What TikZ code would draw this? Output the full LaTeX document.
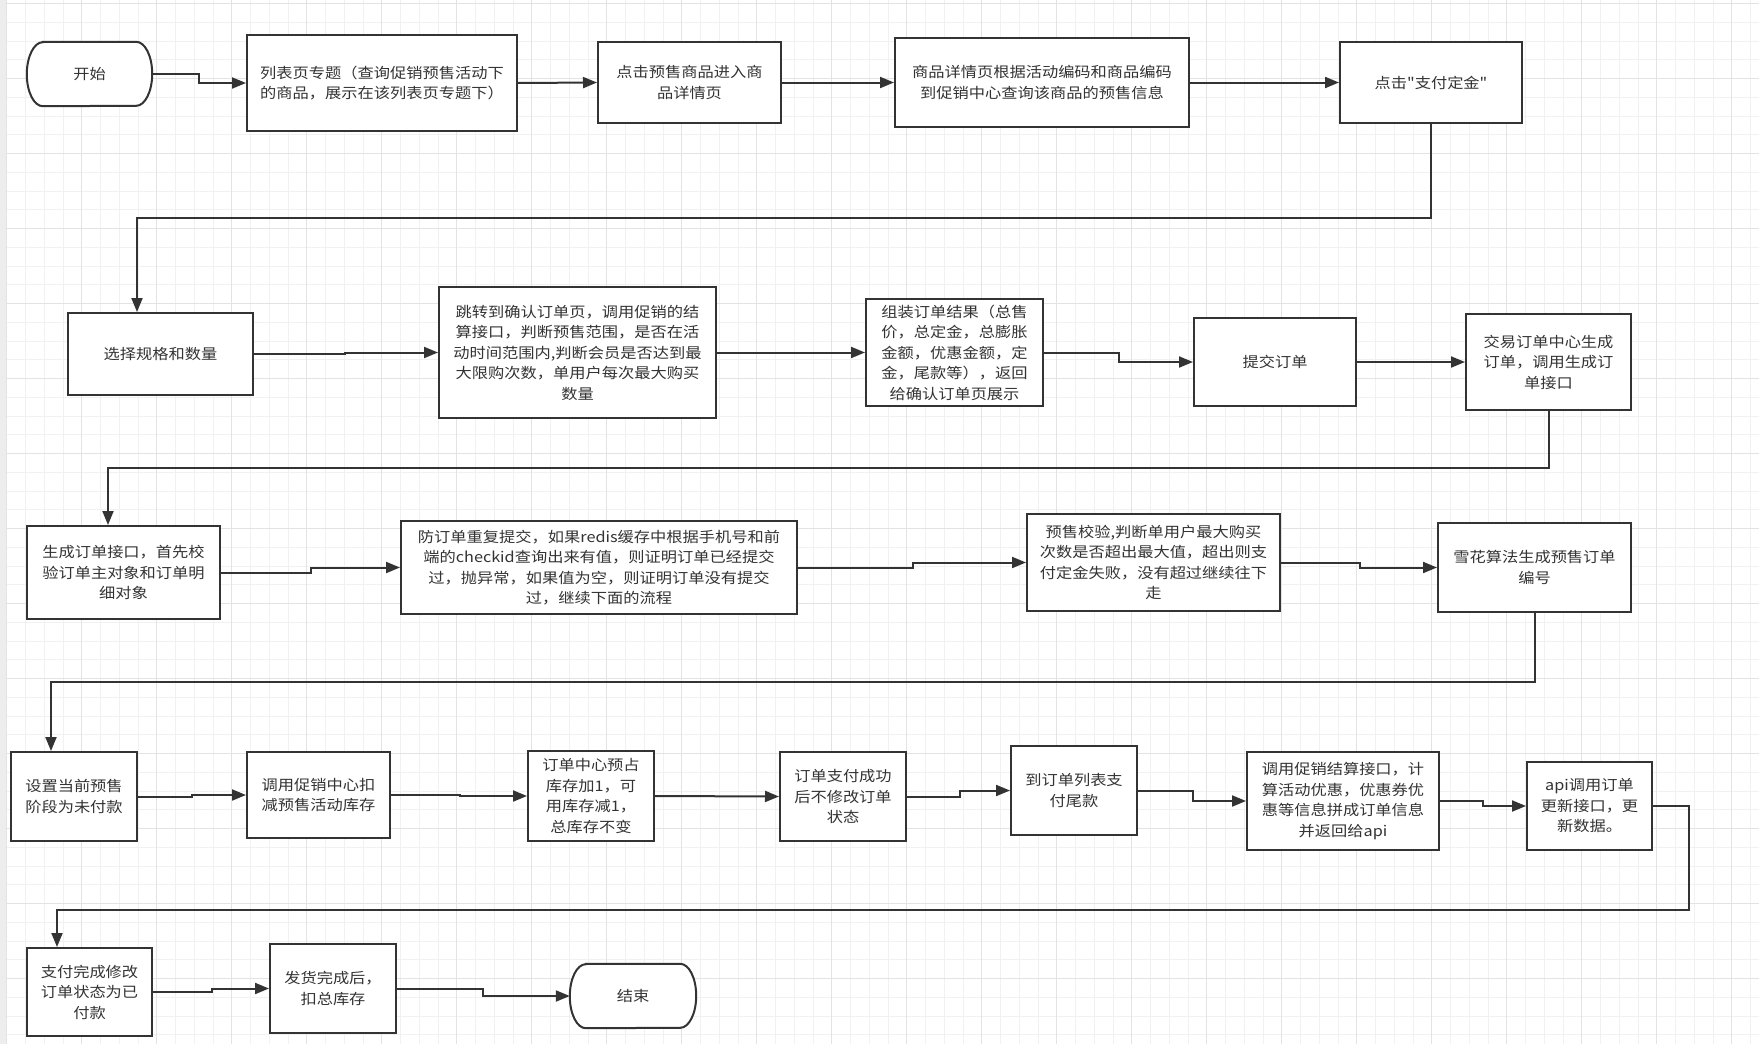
\documentclass[tikz,border=0pt]{standalone}
\usepackage{fontspec}
\setmainfont{Noto Sans CJK SC}[FakeStretch=1.12, Ligatures=TeXOff]
\usetikzlibrary{arrows.meta}
\definecolor{lc}{HTML}{333333}
\definecolor{tc}{HTML}{333333}
\definecolor{gminor}{HTML}{F1F1F1}
\definecolor{gmajor}{HTML}{E3E3E3}
\definecolor{gstrip}{HTML}{EDEDED}
\pgfdeclarelayer{gridlayer}
\pgfdeclarelayer{shapelayer}
\pgfsetlayers{gridlayer,shapelayer,main}
\newcommand\boxfont{\fontsize{14.5}{20.5}\selectfont}
\begin{document}
\begin{tikzpicture}[x=1pt,y=-1pt,
 box/.style={draw=lc, line width=2pt, fill=white, align=center, font=\boxfont, text=tc, inner sep=2pt},
 termtext/.style={align=center, font=\boxfont, text=tc, minimum width=125pt, minimum height=64pt, inner sep=0pt},
 arr/.style={draw=lc, line width=2pt, -{Triangle[length=14pt,width=11pt]}},
 termline/.style={draw=lc, line width=2pt, fill=white},
 minorgrid/.style={draw=gminor, line width=1pt},
 majorgrid/.style={draw=gmajor, line width=1.2pt}]
\useasboundingbox (0,0) rectangle (1759,1044);
\begin{pgfonlayer}{gridlayer}
\fill[white] (0,0) rectangle (1759,1044);
\foreach \i in {0,...,93} {\draw[minorgrid] ({6.8+\i*18.75},0) -- ({6.8+\i*18.75},1044);}
\foreach \i in {0,...,55} {\draw[minorgrid] (0,{3.5+\i*18.75}) -- (1759,{3.5+\i*18.75});}
\foreach \i in {0,...,23} {\draw[majorgrid] ({6.8+\i*75},0) -- ({6.8+\i*75},1044);}
\foreach \i in {0,...,13} {\draw[majorgrid] (0,{3.5+\i*75}) -- (1759,{3.5+\i*75});}
\fill[gstrip] (0,0) rectangle (6,1044);
\end{pgfonlayer}

% row 1
\node[termtext] (start) at (89.5,74) {开始};
\node[box, minimum width=270pt, minimum height=96pt] (list) at (382,83) {列表页专题（查询促销预售活动下\\的商品，展示在该列表页专题下）};
\node[box, minimum width=183pt, minimum height=81pt] (click) at (689.5,82.5) {点击预售商品进入商\\品详情页};
\node[box, minimum width=294pt, minimum height=89pt] (detail) at (1042,82.5) {商品详情页根据活动编码和商品编码\\到促销中心查询该商品的预售信息};
\node[box, minimum width=182pt, minimum height=81pt] (pay) at (1431,82.5) {点击"支付定金"};

% row 2
\node[box, minimum width=185pt, minimum height=82pt] (spec) at (160.5,354) {选择规格和数量};
\node[box, minimum width=277pt, minimum height=131pt] (jump) at (577.5,352.5) {跳转到确认订单页，调用促销的结\\算接口，判断预售范围，是否在活\\动时间范围内,判断会员是否达到最\\大限购次数，单用户每次最大购买\\数量};
\node[box, minimum width=177pt, minimum height=107pt] (assemble) at (954.5,352.5) {组装订单结果（总售\\价，总定金，总膨胀\\金额，优惠金额，定\\金，尾款等），返回\\给确认订单页展示};
\node[box, minimum width=162pt, minimum height=88pt] (submit) at (1275,362) {提交订单};
\node[box, minimum width=165pt, minimum height=96pt] (trade) at (1548.5,362) {交易订单中心生成\\订单，调用生成订\\单接口};

% row 3
\node[box, minimum width=193pt, minimum height=93pt] (gen) at (123.5,572.5) {生成订单接口，首先校\\验订单主对象和订单明\\细对象};
\node[box, minimum width=396pt, minimum height=93pt] (dup) at (599,567.5) {防订单重复提交，如果redis缓存中根据手机号和前\\端的checkid查询出来有值，则证明订单已经提交\\过，抛异常，如果值为空，则证明订单没有提交\\过，继续下面的流程};
\node[box, minimum width=253pt, minimum height=97pt] (presale) at (1153.5,562.5) {预售校验,判断单用户最大购买\\次数是否超出最大值，超出则支\\付定金失败，没有超过继续往下\\走};
\node[box, minimum width=193pt, minimum height=89pt] (snow) at (1534.5,567.5) {雪花算法生成预售订单\\编号};

% row 4
\node[box, minimum width=126pt, minimum height=89pt] (setstage) at (74,796.5) {设置当前预售\\阶段为未付款};
\node[box, minimum width=143pt, minimum height=86pt] (deduct) at (318.5,795) {调用促销中心扣\\减预售活动库存};
\node[box, minimum width=126pt, minimum height=90pt] (occupy) at (591,796) {订单中心预占\\库存加1，可\\用库存减1，\\总库存不变};
\node[box, minimum width=126pt, minimum height=89pt] (nomod) at (843,796.5) {订单支付成功\\后不修改订单\\状态};
\node[box, minimum width=126pt, minimum height=89pt] (tail) at (1074,790.5) {到订单列表支\\付尾款};
\node[box, minimum width=192pt, minimum height=98pt] (settle) at (1343,801) {调用促销结算接口，计\\算活动优惠，优惠券优\\惠等信息拼成订单信息\\并返回给api};
\node[box, minimum width=125pt, minimum height=88pt] (api) at (1589.5,806) {api调用订单\\更新接口，更\\新数据。};

% row 5
\node[box, minimum width=125pt, minimum height=88pt] (paid) at (89.5,992) {支付完成修改\\订单状态为已\\付款};
\node[box, minimum width=126pt, minimum height=89pt] (ship) at (333,988.5) {发货完成后，\\扣总库存};
\node[termtext, minimum width=126pt] (end) at (633,996) {结束};

\begin{pgfonlayer}{shapelayer}
\foreach \t in {start,end} {
\draw[termline] ([xshift=16pt]\t.north west) -- ([xshift=-16pt]\t.north east)
  arc[start angle=90,end angle=-90,x radius=16pt,y radius=32pt]
  -- ([xshift=16pt]\t.south west)
  arc[start angle=270,end angle=90,x radius=16pt,y radius=32pt] -- cycle;
}
\end{pgfonlayer}

% bend points
\coordinate (k1) at (137,218);
\coordinate (k2) at (108,468);
\coordinate (k3) at (51,682);
\coordinate (k4) at (1689,910);
\coordinate (k5) at (57,910);

% connectors
\draw[arr] (start.east) -- ++(47,0) |- (list.west);
\draw[arr] (list.east) -- (click.west);
\draw[arr] (click.east) -- (detail.west);
\draw[arr] (detail.east) -- (pay.west);
\draw[arr] (pay.south) |- (k1) -- (k1 |- spec.north);
\draw[arr] (spec.east) -- ++(91,0) |- (jump.west);
\draw[arr] (jump.east) -- (assemble.west);
\draw[arr] (assemble.east) -- ++(75,0) |- (submit.west);
\draw[arr] (submit.east) -- (trade.west);
\draw[arr] (trade.south) |- (k2) -- (k2 |- gen.north);
\draw[arr] (gen.east) -- ++(90,0) |- (dup.west);
\draw[arr] (dup.east) -- ++(115,0) |- (presale.west);
\draw[arr] (presale.east) -- ++(79,0) |- (snow.west);
\draw[arr] (snow.south) |- (k3) -- (k3 |- setstage.north);
\draw[arr] (setstage.east) -- ++(54,0) |- (deduct.west);
\draw[arr] (deduct.east) -- ++(69,0) |- (occupy.west);
\draw[arr] (occupy.east) -- (nomod.west);
\draw[arr] (nomod.east) -- ++(53,0) |- (tail.west);
\draw[arr] (tail.east) -- ++(55,0) |- (settle.west);
\draw[arr] (settle.east) -- ++(43,0) |- (api.west);
\draw[arr] (api.east) -| (k4) -- (k5) -- (k5 |- paid.north);
\draw[arr] (paid.east) -- ++(59,0) |- (ship.west);
\draw[arr] (ship.east) -- ++(86,0) |- (end.west);
\end{tikzpicture}
\end{document}
